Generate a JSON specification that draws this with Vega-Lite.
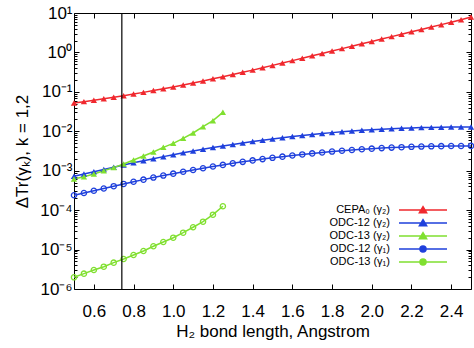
{
  "$schema": "https://vega.github.io/schema/vega-lite/v6.json",
  "autosize": {"type": "none"},
  "width": 397,
  "height": 276,
  "padding": {"left": 74, "top": 13, "right": 3, "bottom": 59},
  "background": "white",
  "config": {
    "view": {"stroke": "black", "strokeWidth": 1},
    "axis": {"domain": false, "grid": false, "tickColor": "black", "tickWidth": 1, "labelColor": "black", "titleColor": "black", "labelFont": "Liberation Sans", "titleFont": "Liberation Sans", "titleFontWeight": "normal"}
  },
  "data": {"values": [
    {"x":0.50,"y":0.0521,"s":"CEPA₀ (γ₂)"},{"x":0.55,"y":0.0565,"s":"CEPA₀ (γ₂)"},{"x":0.60,"y":0.0614,"s":"CEPA₀ (γ₂)"},{"x":0.65,"y":0.0668,"s":"CEPA₀ (γ₂)"},{"x":0.70,"y":0.0729,"s":"CEPA₀ (γ₂)"},{"x":0.75,"y":0.0800,"s":"CEPA₀ (γ₂)"},{"x":0.80,"y":0.0879,"s":"CEPA₀ (γ₂)"},{"x":0.85,"y":0.0970,"s":"CEPA₀ (γ₂)"},{"x":0.90,"y":0.1076,"s":"CEPA₀ (γ₂)"},{"x":0.95,"y":0.1197,"s":"CEPA₀ (γ₂)"},{"x":1.00,"y":0.1334,"s":"CEPA₀ (γ₂)"},{"x":1.05,"y":0.1493,"s":"CEPA₀ (γ₂)"},{"x":1.10,"y":0.1679,"s":"CEPA₀ (γ₂)"},{"x":1.15,"y":0.1892,"s":"CEPA₀ (γ₂)"},{"x":1.20,"y":0.2138,"s":"CEPA₀ (γ₂)"},{"x":1.25,"y":0.2427,"s":"CEPA₀ (γ₂)"},{"x":1.30,"y":0.2767,"s":"CEPA₀ (γ₂)"},{"x":1.35,"y":0.3155,"s":"CEPA₀ (γ₂)"},{"x":1.40,"y":0.3560,"s":"CEPA₀ (γ₂)"},{"x":1.45,"y":0.4080,"s":"CEPA₀ (γ₂)"},{"x":1.50,"y":0.4690,"s":"CEPA₀ (γ₂)"},{"x":1.55,"y":0.5400,"s":"CEPA₀ (γ₂)"},{"x":1.60,"y":0.6200,"s":"CEPA₀ (γ₂)"},{"x":1.65,"y":0.7130,"s":"CEPA₀ (γ₂)"},{"x":1.70,"y":0.8200,"s":"CEPA₀ (γ₂)"},{"x":1.75,"y":0.9430,"s":"CEPA₀ (γ₂)"},{"x":1.80,"y":1.085,"s":"CEPA₀ (γ₂)"},{"x":1.85,"y":1.248,"s":"CEPA₀ (γ₂)"},{"x":1.90,"y":1.436,"s":"CEPA₀ (γ₂)"},{"x":1.95,"y":1.652,"s":"CEPA₀ (γ₂)"},{"x":2.00,"y":1.900,"s":"CEPA₀ (γ₂)"},{"x":2.05,"y":2.186,"s":"CEPA₀ (γ₂)"},{"x":2.10,"y":2.515,"s":"CEPA₀ (γ₂)"},{"x":2.15,"y":2.893,"s":"CEPA₀ (γ₂)"},{"x":2.20,"y":3.328,"s":"CEPA₀ (γ₂)"},{"x":2.25,"y":3.829,"s":"CEPA₀ (γ₂)"},{"x":2.30,"y":4.405,"s":"CEPA₀ (γ₂)"},{"x":2.35,"y":5.067,"s":"CEPA₀ (γ₂)"},{"x":2.40,"y":5.829,"s":"CEPA₀ (γ₂)"},{"x":2.45,"y":6.706,"s":"CEPA₀ (γ₂)"},{"x":2.50,"y":7.900,"s":"CEPA₀ (γ₂)"},
    {"x":0.50,"y":0.000721,"s":"ODC-12 (γ₂)"},{"x":0.55,"y":0.000822,"s":"ODC-12 (γ₂)"},{"x":0.60,"y":0.000938,"s":"ODC-12 (γ₂)"},{"x":0.65,"y":0.001069,"s":"ODC-12 (γ₂)"},{"x":0.70,"y":0.001222,"s":"ODC-12 (γ₂)"},{"x":0.75,"y":0.001396,"s":"ODC-12 (γ₂)"},{"x":0.80,"y":0.001585,"s":"ODC-12 (γ₂)"},{"x":0.85,"y":0.001795,"s":"ODC-12 (γ₂)"},{"x":0.90,"y":0.002023,"s":"ODC-12 (γ₂)"},{"x":0.95,"y":0.002275,"s":"ODC-12 (γ₂)"},{"x":1.00,"y":0.002547,"s":"ODC-12 (γ₂)"},{"x":1.05,"y":0.002838,"s":"ODC-12 (γ₂)"},{"x":1.10,"y":0.003155,"s":"ODC-12 (γ₂)"},{"x":1.15,"y":0.003491,"s":"ODC-12 (γ₂)"},{"x":1.20,"y":0.003855,"s":"ODC-12 (γ₂)"},{"x":1.25,"y":0.004236,"s":"ODC-12 (γ₂)"},{"x":1.30,"y":0.004645,"s":"ODC-12 (γ₂)"},{"x":1.35,"y":0.005070,"s":"ODC-12 (γ₂)"},{"x":1.40,"y":0.005521,"s":"ODC-12 (γ₂)"},{"x":1.45,"y":0.005957,"s":"ODC-12 (γ₂)"},{"x":1.50,"y":0.006412,"s":"ODC-12 (γ₂)"},{"x":1.55,"y":0.006871,"s":"ODC-12 (γ₂)"},{"x":1.60,"y":0.007345,"s":"ODC-12 (γ₂)"},{"x":1.65,"y":0.007816,"s":"ODC-12 (γ₂)"},{"x":1.70,"y":0.008298,"s":"ODC-12 (γ₂)"},{"x":1.75,"y":0.008770,"s":"ODC-12 (γ₂)"},{"x":1.80,"y":0.009247,"s":"ODC-12 (γ₂)"},{"x":1.85,"y":0.009705,"s":"ODC-12 (γ₂)"},{"x":1.90,"y":0.01014,"s":"ODC-12 (γ₂)"},{"x":1.95,"y":0.01057,"s":"ODC-12 (γ₂)"},{"x":2.00,"y":0.01096,"s":"ODC-12 (γ₂)"},{"x":2.05,"y":0.01132,"s":"ODC-12 (γ₂)"},{"x":2.10,"y":0.01164,"s":"ODC-12 (γ₂)"},{"x":2.15,"y":0.01194,"s":"ODC-12 (γ₂)"},{"x":2.20,"y":0.01219,"s":"ODC-12 (γ₂)"},{"x":2.25,"y":0.01239,"s":"ODC-12 (γ₂)"},{"x":2.30,"y":0.01256,"s":"ODC-12 (γ₂)"},{"x":2.35,"y":0.01268,"s":"ODC-12 (γ₂)"},{"x":2.40,"y":0.01276,"s":"ODC-12 (γ₂)"},{"x":2.45,"y":0.01282,"s":"ODC-12 (γ₂)"},{"x":2.50,"y":0.01285,"s":"ODC-12 (γ₂)"},
    {"x":0.50,"y":0.000617,"s":"ODC-13 (γ₂)"},{"x":0.55,"y":0.000706,"s":"ODC-13 (γ₂)"},{"x":0.60,"y":0.000826,"s":"ODC-13 (γ₂)"},{"x":0.65,"y":0.001002,"s":"ODC-13 (γ₂)"},{"x":0.70,"y":0.001197,"s":"ODC-13 (γ₂)"},{"x":0.75,"y":0.001479,"s":"ODC-13 (γ₂)"},{"x":0.80,"y":0.001871,"s":"ODC-13 (γ₂)"},{"x":0.85,"y":0.002360,"s":"ODC-13 (γ₂)"},{"x":0.90,"y":0.002985,"s":"ODC-13 (γ₂)"},{"x":0.95,"y":0.003917,"s":"ODC-13 (γ₂)"},{"x":1.00,"y":0.004943,"s":"ODC-13 (γ₂)"},{"x":1.05,"y":0.006637,"s":"ODC-13 (γ₂)"},{"x":1.10,"y":0.009057,"s":"ODC-13 (γ₂)"},{"x":1.15,"y":0.01306,"s":"ODC-13 (γ₂)"},{"x":1.20,"y":0.01858,"s":"ODC-13 (γ₂)"},{"x":1.25,"y":0.03027,"s":"ODC-13 (γ₂)"},
    {"x":0.50,"y":0.000239,"s":"ODC-12 (γ₁)"},{"x":0.55,"y":0.000272,"s":"ODC-12 (γ₁)"},{"x":0.60,"y":0.000311,"s":"ODC-12 (γ₁)"},{"x":0.65,"y":0.000354,"s":"ODC-12 (γ₁)"},{"x":0.70,"y":0.000405,"s":"ODC-12 (γ₁)"},{"x":0.75,"y":0.000462,"s":"ODC-12 (γ₁)"},{"x":0.80,"y":0.000525,"s":"ODC-12 (γ₁)"},{"x":0.85,"y":0.000594,"s":"ODC-12 (γ₁)"},{"x":0.90,"y":0.000670,"s":"ODC-12 (γ₁)"},{"x":0.95,"y":0.000753,"s":"ODC-12 (γ₁)"},{"x":1.00,"y":0.000843,"s":"ODC-12 (γ₁)"},{"x":1.05,"y":0.000940,"s":"ODC-12 (γ₁)"},{"x":1.10,"y":0.001045,"s":"ODC-12 (γ₁)"},{"x":1.15,"y":0.001156,"s":"ODC-12 (γ₁)"},{"x":1.20,"y":0.001276,"s":"ODC-12 (γ₁)"},{"x":1.25,"y":0.001403,"s":"ODC-12 (γ₁)"},{"x":1.30,"y":0.001538,"s":"ODC-12 (γ₁)"},{"x":1.35,"y":0.001679,"s":"ODC-12 (γ₁)"},{"x":1.40,"y":0.001828,"s":"ODC-12 (γ₁)"},{"x":1.45,"y":0.001972,"s":"ODC-12 (γ₁)"},{"x":1.50,"y":0.002123,"s":"ODC-12 (γ₁)"},{"x":1.55,"y":0.002275,"s":"ODC-12 (γ₁)"},{"x":1.60,"y":0.002432,"s":"ODC-12 (γ₁)"},{"x":1.65,"y":0.002588,"s":"ODC-12 (γ₁)"},{"x":1.70,"y":0.002747,"s":"ODC-12 (γ₁)"},{"x":1.75,"y":0.002904,"s":"ODC-12 (γ₁)"},{"x":1.80,"y":0.003062,"s":"ODC-12 (γ₁)"},{"x":1.85,"y":0.003213,"s":"ODC-12 (γ₁)"},{"x":1.90,"y":0.003357,"s":"ODC-12 (γ₁)"},{"x":1.95,"y":0.003500,"s":"ODC-12 (γ₁)"},{"x":2.00,"y":0.003629,"s":"ODC-12 (γ₁)"},{"x":2.05,"y":0.003748,"s":"ODC-12 (γ₁)"},{"x":2.10,"y":0.003854,"s":"ODC-12 (γ₁)"},{"x":2.15,"y":0.003953,"s":"ODC-12 (γ₁)"},{"x":2.20,"y":0.004036,"s":"ODC-12 (γ₁)"},{"x":2.25,"y":0.004102,"s":"ODC-12 (γ₁)"},{"x":2.30,"y":0.004159,"s":"ODC-12 (γ₁)"},{"x":2.35,"y":0.004198,"s":"ODC-12 (γ₁)"},{"x":2.40,"y":0.004225,"s":"ODC-12 (γ₁)"},{"x":2.45,"y":0.004245,"s":"ODC-12 (γ₁)"},{"x":2.50,"y":0.004255,"s":"ODC-12 (γ₁)"},
    {"x":0.50,"y":0.00000198,"s":"ODC-13 (γ₁)"},{"x":0.55,"y":0.00000245,"s":"ODC-13 (γ₁)"},{"x":0.60,"y":0.00000303,"s":"ODC-13 (γ₁)"},{"x":0.65,"y":0.00000368,"s":"ODC-13 (γ₁)"},{"x":0.70,"y":0.00000466,"s":"ODC-13 (γ₁)"},{"x":0.75,"y":0.00000577,"s":"ODC-13 (γ₁)"},{"x":0.80,"y":0.00000729,"s":"ODC-13 (γ₁)"},{"x":0.85,"y":0.00000920,"s":"ODC-13 (γ₁)"},{"x":0.90,"y":0.00001211,"s":"ODC-13 (γ₁)"},{"x":0.95,"y":0.00001556,"s":"ODC-13 (γ₁)"},{"x":1.00,"y":0.00002000,"s":"ODC-13 (γ₁)"},{"x":1.05,"y":0.00002679,"s":"ODC-13 (γ₁)"},{"x":1.10,"y":0.00003681,"s":"ODC-13 (γ₁)"},{"x":1.15,"y":0.00005093,"s":"ODC-13 (γ₁)"},{"x":1.20,"y":0.00007674,"s":"ODC-13 (γ₁)"},{"x":1.25,"y":0.0001253,"s":"ODC-13 (γ₁)"}
  ]},
  "resolve": {"axis": {"x": "independent", "y": "independent"}},
  "layer": [
    {
      "mark": {"type": "line", "strokeWidth": 1.5},
      "encoding": {
        "x": {"field": "x", "type": "quantitative", "scale": {"domain": [0.5, 2.5], "nice": false, "zero": false},
          "axis": {"orient": "bottom", "values": [0.6,0.8,1.0,1.2,1.4,1.6,1.8,2.0,2.2,2.4], "format": ".1f", "tickSize": -5, "labelPadding": 19, "labelFontSize": 17, "title": "H₂ bond length, Angstrom", "titleFontSize": 17, "titlePadding": 4}},
        "y": {"field": "y", "type": "quantitative", "scale": {"type": "log", "domain": [0.000001, 10], "nice": false},
          "axis": {"orient": "left", "values": [0.000001,0.00001,0.0001,0.001,0.01,0.1,1,10], "labelExpr": "'10' + ['⁻⁶','⁻⁵','⁻⁴','⁻³','⁻²','⁻¹','⁰','¹'][round(log(datum.value)/LN10)+6]", "tickSize": -5, "labelPadding": 7, "labelFontSize": 17, "title": "ΔTr(γₖ), k = 1,2", "titleFontSize": 17, "titlePadding": 8}},
        "color": {"field": "s", "type": "nominal",
          "scale": {"domain": ["CEPA₀ (γ₂)", "ODC-12 (γ₂)", "ODC-13 (γ₂)", "ODC-12 (γ₁)", "ODC-13 (γ₁)"], "range": ["#f0282e", "#1f40dc", "#80e030", "#1f40dc", "#80e030"]},
          "legend": {"title": null, "orient": "bottom-right", "offset": 21, "padding": 0, "labelAlign": "right", "labelOffset": -40, "symbolOffset": 0, "symbolSize": 144, "symbolStrokeWidth": 1.5, "rowPadding": 0, "labelFontSize": 11, "labelFont": "Liberation Sans", "labelColor": "black",
            "encode": {"symbols": {"update": {
              "shape": {"signal": "indexof(datum.value, 'γ₁') >= 0 ? 'M-4,0H4M0.5,0A0.5,0.5 0 1,1 -0.5,0A0.5,0.5 0 1,1 0.5,0' : 'M-4,0H4M0,-0.55L0.6,0.45L-0.6,0.45Z'"},
              "size": {"value": 144},
              "stroke": {"scale": "color", "field": "value"},
              "fill": {"signal": "indexof(datum.value, 'γ₁') >= 0 ? 'transparent' : scale('color', datum.value)"},
              "strokeWidth": {"value": 1.5},
              "opacity": {"value": 1}
            }}}}}
      }
    },
    {
      "transform": [{"filter": "indexof(datum.s, 'γ₂') >= 0"}],
      "mark": {"type": "point", "shape": "triangle-up", "filled": true, "size": 40, "opacity": 1},
      "encoding": {
        "x": {"field": "x", "type": "quantitative", "axis": {"orient": "top", "values": [0.6,0.8,1.0,1.2,1.4,1.6,1.8,2.0,2.2,2.4], "labels": false, "tickSize": -5, "title": null}},
        "y": {"field": "y", "type": "quantitative", "axis": {"orient": "right", "values": [0.000001,0.00001,0.0001,0.001,0.01,0.1,1,10], "labels": false, "tickSize": -5, "title": null}},
        "color": {"field": "s", "type": "nominal"}
      }
    },
    {
      "transform": [{"filter": "indexof(datum.s, 'γ₁') >= 0"}],
      "mark": {"type": "point", "shape": "circle", "filled": false, "size": 28, "strokeWidth": 1.3, "opacity": 1},
      "encoding": {
        "x": {"field": "x", "type": "quantitative", "axis": null},
        "y": {"field": "y", "type": "quantitative", "axis": {"orient": "left", "values": [2e-6,3e-6,4e-6,5e-6,6e-6,7e-6,8e-6,9e-6,2e-5,3e-5,4e-5,5e-5,6e-5,7e-5,8e-5,9e-5,2e-4,3e-4,4e-4,5e-4,6e-4,7e-4,8e-4,9e-4,2e-3,3e-3,4e-3,5e-3,6e-3,7e-3,8e-3,9e-3,0.02,0.03,0.04,0.05,0.06,0.07,0.08,0.09,0.2,0.3,0.4,0.5,0.6,0.7,0.8,0.9,2,3,4,5,6,7,8,9], "labels": false, "tickSize": -3, "title": null}},
        "color": {"field": "s", "type": "nominal"}
      }
    },
    {
      "data": {"values": [{"x": 0.741}]},
      "mark": {"type": "rule", "color": "black", "strokeWidth": 1.2},
      "encoding": {
        "x": {"field": "x", "type": "quantitative", "axis": null},
        "y": {"datum": 0.000001, "type": "quantitative", "axis": {"orient": "right", "values": [2e-6,3e-6,4e-6,5e-6,6e-6,7e-6,8e-6,9e-6,2e-5,3e-5,4e-5,5e-5,6e-5,7e-5,8e-5,9e-5,2e-4,3e-4,4e-4,5e-4,6e-4,7e-4,8e-4,9e-4,2e-3,3e-3,4e-3,5e-3,6e-3,7e-3,8e-3,9e-3,0.02,0.03,0.04,0.05,0.06,0.07,0.08,0.09,0.2,0.3,0.4,0.5,0.6,0.7,0.8,0.9,2,3,4,5,6,7,8,9], "labels": false, "tickSize": -3, "title": null}},
        "y2": {"datum": 10}
      }
    }
  ]
}
